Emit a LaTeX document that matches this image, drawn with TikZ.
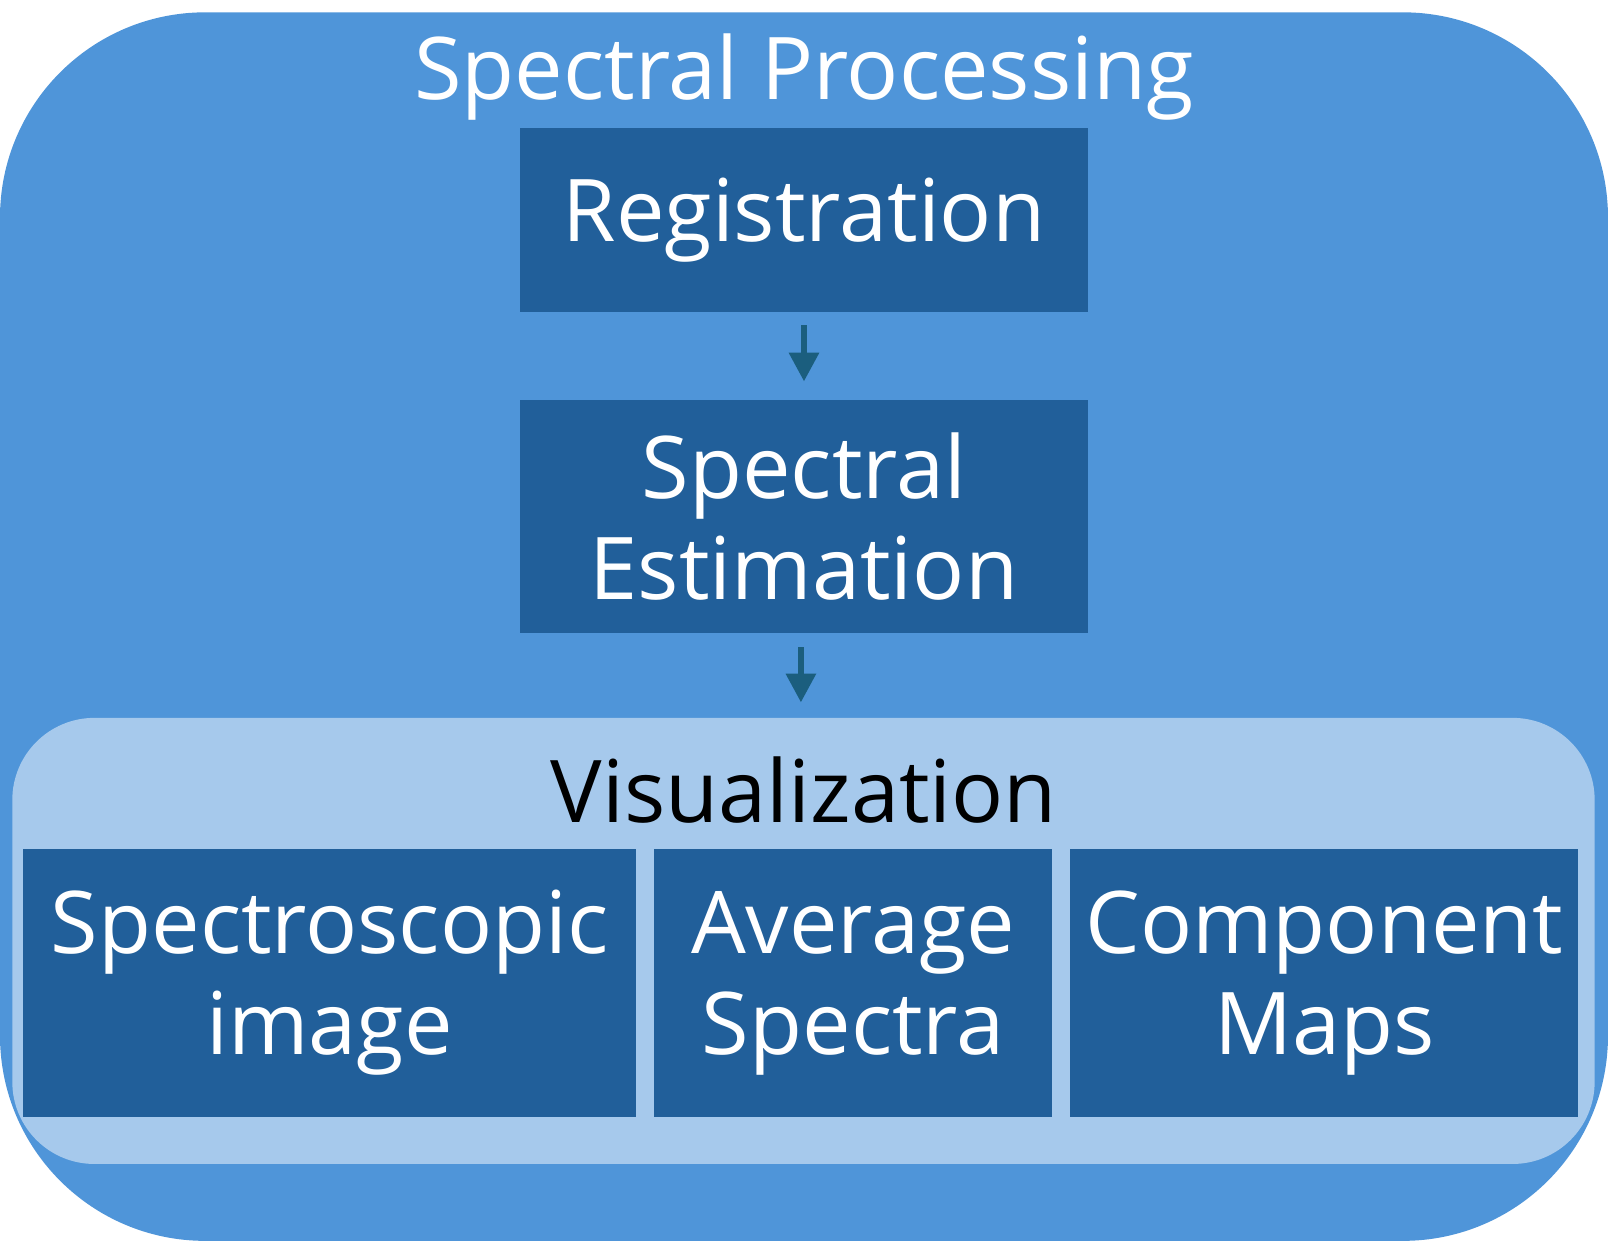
\documentclass[tikz,border=0pt]{standalone}
\usepackage{fontspec}
\setmainfont{Open Sans}
\usetikzlibrary{arrows.meta,positioning}
\definecolor{outerblue}{HTML}{4F95D9}
\definecolor{boxblue}{HTML}{215F9A}
\definecolor{lightblue}{HTML}{A6C9EC}
\definecolor{arrowteal}{HTML}{1B5E7E}
\tikzset{
  stagebox/.style={fill=boxblue, text=white, align=center, inner sep=0pt},
  flow/.style={-{Triangle[length=8pt,width=8pt]}, arrowteal, line width=1.8pt},
  bigtext/.style={font=\fontsize{24}{28}\selectfont},
}
\begin{document}
\begin{tikzpicture}[x=0.01cm, y=-0.01cm]
  \useasboundingbox (0,0) rectangle (1568,1211);
  \fill[outerblue, rounded corners=2cm] (0,12) rectangle (1568,1210);
  \node[text=white, bigtext] (title) at (784,75) {Spectral Processing};
  \node[stagebox, bigtext, minimum width=5.54cm, minimum height=1.79cm] (reg) at (784,214.5) {Registration};
  \node[stagebox, bigtext, minimum width=5.54cm, minimum height=2.27cm] (est) at (784,503.5) {Spectral\\Estimation};
  \fill[lightblue, rounded corners=0.8cm] (12,700) rectangle (1555,1135);
  \node[bigtext] (vis) at (784,770) {Visualization};
  \node[stagebox, bigtext, minimum width=5.97cm, minimum height=2.61cm] (img) at (321.5,958.5) {Spectroscopic\\image};
  \node[stagebox, bigtext, minimum width=3.88cm, minimum height=2.61cm] (avg) at (832,958.5) {Average\\Spectra};
  \node[stagebox, bigtext, minimum width=4.95cm, minimum height=2.61cm] (maps) at (1291.5,958.5) {Component\\Maps};
  \coordinate (a1) at (784,317);
  \coordinate (b1) at (784,372);
  \coordinate (a2) at (781,631);
  \coordinate (b2) at (781,685);
  \draw[flow] (a1) -- (b1);
  \draw[flow] (a2) -- (b2);
\end{tikzpicture}
\end{document}
